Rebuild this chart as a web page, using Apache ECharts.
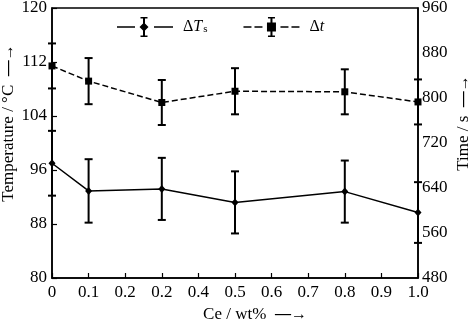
<!DOCTYPE html>
<html>
<head>
<meta charset="utf-8">
<script src="https://cdn.jsdelivr.net/npm/echarts@6/dist/echarts.min.js"></script>
<style>
  html, body { margin: 0; padding: 0; background: #fff; }
  #chart { width: 474px; height: 323px; }
</style>
</head>
<body>
<div id="chart"></div>
<script>
// Tick labels of the Ce axis (one per 0.1 step, as printed)
const ceTickLabels = ['0', '0.1', '0.2', '0.2', '0.4', '0.5', '0.6', '0.7', '0.8', '0.9', '1.0'];
// Positions of the measured samples along the Ce axis
const cePos = [0, 0.1, 0.3, 0.5, 0.8, 1.0];
// Undercooling ΔTs (°C) and its scatter
const dTs = [97.0, 92.9, 93.2, 91.2, 92.8, 89.7];
const dTsErr = [4.8, 4.7, 4.6, 4.6, 4.6, 4.5];
// Solidification time Δt (s) and its scatter
const dt = [857, 830, 792, 812, 811, 793];
const dtErr = [40, 41, 40, 41, 40, 40];

const SERIF = '"Liberation Serif", "Times New Roman", serif';
const FS = 17;

const pairs = (xs, ys) => xs.map((x, i) => [x, ys[i]]);
const errData = (xs, ys, es) => xs.map((x, i) => [x, ys[i], es[i]]);

function errorBar(params, api) {
  const x = api.value(0), v = api.value(1), e = api.value(2);
  const top = api.coord([x, v + e]);
  const bot = api.coord([x, v - e]);
  const half = 4;
  const style = { stroke: '#000', lineWidth: 2 };
  return {
    type: 'group',
    children: [
      { type: 'line', shape: { x1: top[0], y1: top[1], x2: bot[0], y2: bot[1] }, style },
      { type: 'line', shape: { x1: top[0] - half, y1: top[1], x2: top[0] + half, y2: top[1] }, style },
      { type: 'line', shape: { x1: bot[0] - half, y1: bot[1], x2: bot[0] + half, y2: bot[1] }, style }
    ]
  };
}

// Legend glyphs: line + marker + error bar, in a 56x20 box
const iconTs = 'path://M0 9.3H18V10.7H0Z M37 9.3H56V10.7H37Z M26 0H28V20H26Z M23.5 0H30.5V1.6H23.5Z M23.5 18.4H30.5V20H23.5Z M27 5.5L31.5 10L27 14.5L22.5 10Z';
const iconT = 'path://M0 9.3H8V10.7H0Z M11 9.3H19V10.7H11Z M37 9.3H45V10.7H37Z M48 9.3H56V10.7H48Z M27 0H29V20H27Z M24.5 0H31.5V1.6H24.5Z M24.5 18.4H31.5V20H24.5Z M23.5 5.5H32.5V14.5H23.5Z';

// Axis titles: the quantity is centred on the axis, the arrow trails after it
const arrowRich = { a: { fontFamily: SERIF, fontSize: 16, fontWeight: 'bold', color: '#000' } };
const titleStyle = { fontFamily: SERIF, fontSize: FS, color: '#000', padding: [0, 0, 0, 40], rich: arrowRich };

const chart = echarts.init(document.getElementById('chart'), null, { renderer: 'canvas' });

chart.setOption({
  animation: false,
  backgroundColor: '#fff',
  textStyle: { fontFamily: SERIF, color: '#000' },
  grid: {
    left: 52, right: 56, top: 8, bottom: 45,
    containLabel: false, outerBoundsMode: 'none',
    show: true, borderColor: '#000', borderWidth: 1.5, backgroundColor: 'transparent'
  },
  legend: {
    left: 117, top: 17, padding: 0,
    itemWidth: 56, itemHeight: 20, itemGap: 36,
    data: [
      { name: 'ΔTs', icon: iconTs },
      { name: 'Δt', icon: iconT }
    ],
    itemStyle: { color: '#000', borderWidth: 0 },
    formatter: name => name === 'ΔTs' ? '{n|Δ}{i|T}{s|s}' : '{n|Δ}{i|t}',
    textStyle: {
      padding: [0, 0, 0, 5],
      rich: {
        n: { fontFamily: SERIF, fontSize: 16, color: '#000' },
        i: { fontFamily: SERIF, fontSize: 16, fontStyle: 'italic', color: '#000' },
        s: { fontFamily: SERIF, fontSize: 11, color: '#000', padding: [5, 0, 0, 1] }
      }
    }
  },
  xAxis: {
    type: 'value', min: 0, max: 1, interval: 0.1,
    name: 'Ce / wt%  {a|—→}', nameLocation: 'middle', nameGap: 28, nameMoveOverlap: false,
    nameTextStyle: titleStyle,
    axisLine: { lineStyle: { color: '#000', width: 1.5 } },
    axisTick: { inside: true, length: 5, lineStyle: { color: '#000', width: 1.2 } },
    axisLabel: { fontFamily: SERIF, fontSize: FS, color: '#000', margin: 6, formatter: v => ceTickLabels[Math.round(v * 10)] },
    splitLine: { show: false }
  },
  yAxis: [
    {
      type: 'value', min: 80, max: 120, interval: 8, position: 'left',
      name: 'Temperature / °C  {a|—→}', nameLocation: 'middle', nameGap: 35, nameRotate: 90, nameMoveOverlap: false,
      nameTextStyle: titleStyle,
      axisLine: { show: true, lineStyle: { color: '#000', width: 1.5 } },
      axisTick: { show: true, inside: true, length: 5, lineStyle: { color: '#000', width: 1.2 } },
      axisLabel: { fontFamily: SERIF, fontSize: FS, color: '#000', margin: 5 },
      splitLine: { show: false }
    },
    {
      type: 'value', min: 480, max: 960, interval: 80, position: 'right',
      name: 'Time / s  {a|—→}', nameLocation: 'middle', nameGap: 37, nameRotate: 90, nameMoveOverlap: false,
      nameTextStyle: titleStyle,
      axisLine: { show: true, lineStyle: { color: '#000', width: 1.5 } },
      axisTick: { show: false },
      axisLabel: { fontFamily: SERIF, fontSize: FS, color: '#000', margin: 4 },
      splitLine: { show: false }
    }
  ],
  series: [
    {
      name: 'ΔTs', type: 'line', yAxisIndex: 0,
      data: pairs(cePos, dTs),
      symbol: 'diamond', symbolSize: [7, 8],
      lineStyle: { color: '#000', width: 1.5 },
      itemStyle: { color: '#000' }, z: 3
    },
    {
      name: 'Δt', type: 'line', yAxisIndex: 1,
      data: pairs(cePos, dt),
      symbol: 'rect', symbolSize: 7,
      lineStyle: { color: '#000', width: 1.5, type: [6, 3] },
      itemStyle: { color: '#000' }, z: 3
    },
    {
      name: 'ΔTs error', type: 'custom', yAxisIndex: 0,
      data: errData(cePos, dTs, dTsErr),
      renderItem: errorBar, z: 2
    },
    {
      name: 'Δt error', type: 'custom', yAxisIndex: 1,
      data: errData(cePos, dt, dtErr),
      renderItem: errorBar, z: 2
    }
  ]
});
</script>
</body>
</html>
